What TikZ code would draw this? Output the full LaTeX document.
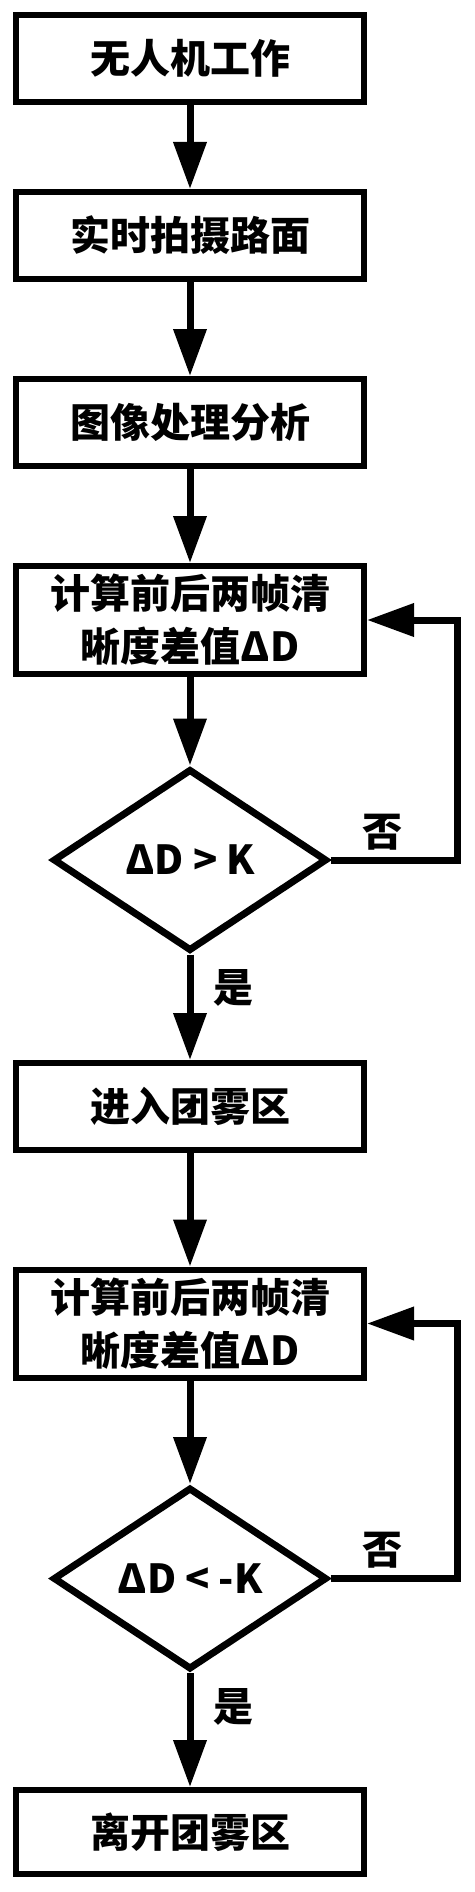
\documentclass[tikz,border=0pt]{standalone}
\usepackage{fontspec}
\newfontfamily\cjk{Noto Sans CJK SC}
\usetikzlibrary{arrows.meta,shapes.geometric}

\begin{document}
\begin{tikzpicture}[x=1pt,y=-1pt,
	every node/.style={font=\cjk\bfseries\fontsize{40}{53}\selectfont},
	box/.style={draw,line width=6pt,minimum width=348pt,minimum height=87pt,inner sep=0pt,align=center},
	cond/.style={draw,diamond,line width=7pt,minimum width=274pt,minimum height=182pt,inner sep=0pt},
	arr/.style={line width=7pt,-{Triangle[length=47pt,width=32pt]}}]
	\useasboundingbox (0,0) rectangle (474,1892);
	\node[box] (b1) at (190,58.5) {无人机工作};
	\node[box] (b2) at (190,235.5) {实时拍摄路面};
	\node[box] (b3) at (190,422.5) {图像处理分析};
	\node[box, minimum height=108pt] (b4) at (190,620) {计算前后两帧清\\晰度差值ΔD};
	\node[cond] (d1) at (190,860) {ΔD > K};
	\node[box] (b5) at (190,1106.5) {进入团雾区};
	\node[box, minimum height=108pt] (b6) at (190,1323.5) {计算前后两帧清\\晰度差值ΔD};
	\node[cond] (d2) at (190,1578.5) {ΔD < -K};
	\node[box, minimum height=84pt] (b7) at (190,1832) {离开团雾区};
	\coordinate (r1) at (457,620); \coordinate (r2) at (457,1323.5);
	\draw[arr] (b1) -- (b2); \draw[arr] (b2) -- (b3); \draw[arr] (b3) -- (b4);
	\draw[arr] (b4) -- (d1); \draw[arr] (d1) -- (b5); \draw[arr] (b5) -- (b6);
	\draw[arr] (b6) -- (d2); \draw[arr] (d2) -- (b7);
	\draw[arr] (d1.east) -| (r1) -- (b4.east);
	\draw[arr] (d2.east) -| (r2) -- (b6.east);
	\node (no1) at (382,832) {否}; \node (yes1) at (233,988) {是};
	\node (no2) at (382,1550) {否}; \node (yes2) at (233,1707) {是};
\end{tikzpicture}
\end{document}
